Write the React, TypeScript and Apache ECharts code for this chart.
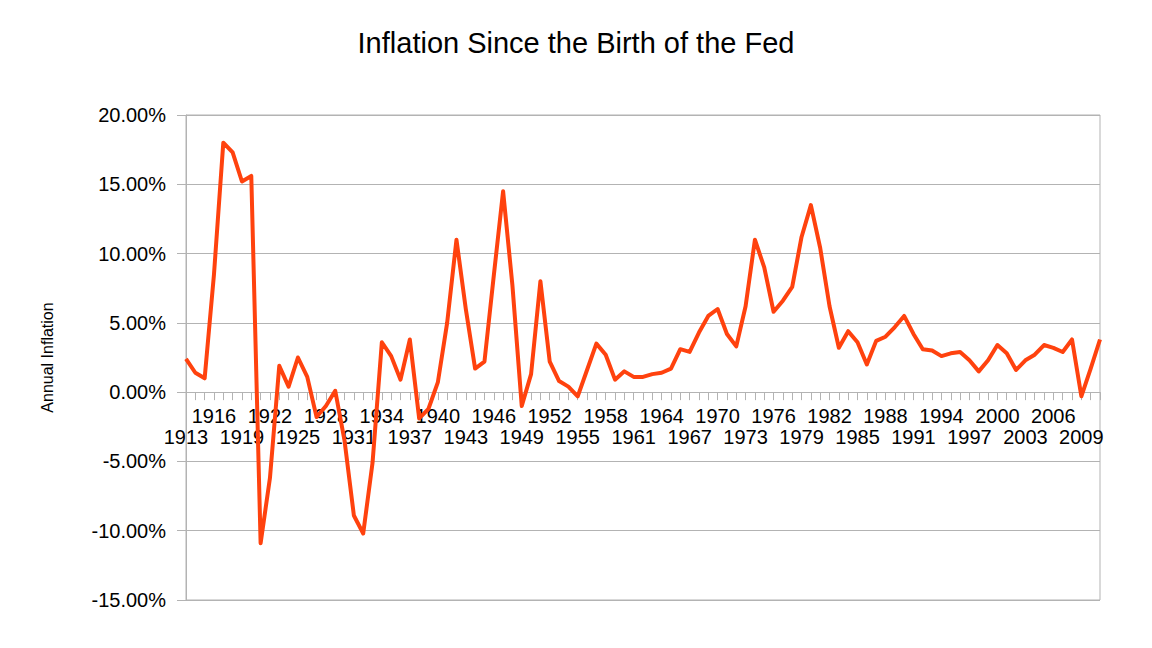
import React, { useEffect, useRef } from "react";
import * as echarts from "echarts";

const years: string[] = [];
for (let y = 1913; y <= 2011; y++) years.push(String(y));

const inflation: number[] = [
  2.4, 1.4, 1.0, 8.5, 18.0, 17.3, 15.2, 15.6, -10.9, -6.2,
  1.9, 0.4, 2.5, 1.1, -1.8, -1.0, 0.1, -3.5, -8.9, -10.2,
  -5.1, 3.6, 2.6, 0.9, 3.8, -1.9, -1.2, 0.7, 5.0, 11.0,
  6.0, 1.7, 2.2, 8.4, 14.5, 7.7, -1.0, 1.3, 8.0, 2.2,
  0.8, 0.4, -0.3, 1.6, 3.5, 2.7, 0.9, 1.5, 1.1, 1.1,
  1.3, 1.4, 1.7, 3.1, 2.9, 4.3, 5.5, 6.0, 4.2, 3.3,
  6.2, 11.0, 9.0, 5.8, 6.6, 7.6, 11.2, 13.5, 10.4, 6.2,
  3.2, 4.4, 3.6, 2.0, 3.7, 4.0, 4.7, 5.5, 4.2, 3.1,
  3.0, 2.6, 2.8, 2.9, 2.3, 1.5, 2.3, 3.4, 2.8, 1.6,
  2.3, 2.7, 3.4, 3.2, 2.9, 3.8, -0.3, 1.7, 3.8,
];

const titleText = "Inflation Since the Birth of the Fed";
const yAxisName = "Annual Inflation";
const yMin = -15;
const yMax = 20;
const yStep = 5;

export default function App() {
  const ref = useRef<HTMLDivElement>(null);
  useEffect(() => {
    if (!ref.current) return;
    const chart = echarts.init(ref.current, null, { renderer: "svg" });
    const font = "'Liberation Sans', Arial, sans-serif";
    const gridTop = 115;
    const gridBottom = 48;
    const plotH = 648 - gridTop - gridBottom;
    const zeroFromBottom = ((0 - yMin) / (yMax - yMin)) * plotH;
    const labelStyle = {
      fontSize: 20,
      color: "#000",
      fontFamily: font,
      hideOverlap: false,
      showMinLabel: true,
      showMaxLabel: true,
      interval: 0,
    };
    chart.setOption({
      animation: false,
      backgroundColor: "#ffffff",
      title: {
        text: titleText,
        left: "center",
        top: 23,
        textStyle: { fontSize: 29, fontWeight: "normal", color: "#000", fontFamily: font },
      },
      grid: {
        left: 186,
        right: 52,
        top: gridTop,
        bottom: gridBottom,
        show: true,
        borderColor: "#b3b3b3",
        borderWidth: 1,
      },
      xAxis: [
        {
          type: "category",
          data: years,
          boundaryGap: false,
          position: "bottom",
          offset: -zeroFromBottom,
          axisLine: { onZero: false, lineStyle: { color: "#b3b3b3", width: 1 } },
          axisTick: { show: true, interval: 0, length: 8, lineStyle: { color: "#b3b3b3" } },
          axisLabel: {
            ...labelStyle,
            margin: 14,
            formatter: (v: string, i: number) => (i % 6 === 3 ? v : ""),
          },
          splitLine: { show: false },
        },
        {
          type: "category",
          data: years,
          boundaryGap: false,
          position: "bottom",
          offset: -zeroFromBottom,
          axisLine: { show: false, onZero: false },
          axisTick: { show: false },
          axisLabel: {
            ...labelStyle,
            margin: 35,
            formatter: (v: string, i: number) => (i % 6 === 0 ? v : ""),
          },
          splitLine: { show: false },
        },
      ],
      yAxis: {
        type: "value",
        min: yMin,
        max: yMax,
        interval: yStep,
        name: yAxisName,
        nameLocation: "middle",
        nameGap: 131,
        nameTextStyle: { fontSize: 16, color: "#000", fontFamily: font },
        axisLine: { show: true, lineStyle: { color: "#b3b3b3", width: 1 } },
        axisTick: { show: true, length: 9, lineStyle: { color: "#b3b3b3" } },
        axisLabel: {
          margin: 20,
          fontSize: 20,
          color: "#000",
          fontFamily: font,
          formatter: (v: number) => v.toFixed(2) + "%",
        },
        splitLine: { show: true, lineStyle: { color: "#b3b3b3", width: 1 } },
      },
      series: [
        {
          type: "line",
          xAxisIndex: 0,
          data: inflation,
          showSymbol: false,
          symbol: "none",
          lineStyle: { color: "#ff420e", width: 4, join: "round" },
          itemStyle: { color: "#ff420e" },
        },
      ],
    });
    return () => chart.dispose();
  }, []);
  return (
    <div
      ref={ref}
      style={{ position: "fixed", left: 0, top: 0, width: 1152, height: 648 }}
    />
  );
}
